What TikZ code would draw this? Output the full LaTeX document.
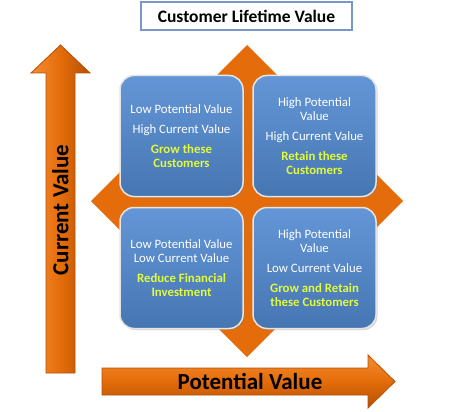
\documentclass[tikz,border=0pt]{standalone}
\usepackage{fontspec}
\setmainfont{Carlito}
\usetikzlibrary{shadows}
\definecolor{orng}{RGB}{228,108,10}
\definecolor{orngL}{RGB}{246,140,50}
\definecolor{orngD}{RGB}{180,80,5}
\definecolor{boxblue}{RGB}{79,129,189}
\definecolor{boxblueL}{RGB}{100,150,215}
\definecolor{boxblueD}{RGB}{70,118,178}
\definecolor{ylw}{RGB}{225,250,60}
\definecolor{titleblue}{RGB}{120,150,200}
\newcommand\yb[1]{{\color{ylw}\bfseries #1}}
\tikzset{
  quad/.style={rounded corners=14pt, minimum width=123pt, minimum height=121pt,
    top color=boxblueL, bottom color=boxblueD, draw=gray!20, line width=1.5pt,
    text=white, align=center, font=\fontsize{12.8}{14}\selectfont, inner sep=0pt,
    drop shadow={opacity=0.35, shadow xshift=1.5pt, shadow yshift=-1.5pt}},
  bigarrow/.style={draw=orngD, line width=0.8pt, line join=miter},
  axislabel/.style={font=\bfseries\fontsize{23}{24}\selectfont, text=black},
}
\begin{document}
\begin{tikzpicture}[x=1pt,y=-1pt]
\useasboundingbox (0,0) rectangle (474,412);
% title
\node[draw=titleblue, line width=1.3pt, minimum width=211pt, minimum height=28pt,
  font=\bfseries\fontsize{17.5}{19}\selectfont, inner sep=0pt] (title) at (246.5,16) {Customer Lifetime Value};
% diamond
\fill[orng] (247,45) -- (403,201) -- (247,357) -- (91,201) -- cycle;
% vertical arrow
\draw[bigarrow, left color=orngL, right color=orngD, middle color=orng]
  (46,373) -- (46,73) -- (31,73) -- (60.5,45) -- (90,73) -- (75,73) -- (75,373) -- cycle;
\node[axislabel, rotate=90] (cv) at (60.5,210) {Current Value};
% horizontal arrow
\draw[bigarrow, top color=orngL, bottom color=orngD, middle color=orng]
  (102,368) -- (368,368) -- (368,355) -- (395,381.5) -- (368,408) -- (368,395) -- (102,395) -- cycle;
\node[axislabel] (pv) at (250,381.5) {Potential Value};
% quadrants
\node[quad] (tl) at (181.5,136) {Low Potential Value\\[6pt]High Current Value\\[6pt]\yb{Grow these}\\\yb{Customers}};
\node[quad] (tr) at (314.5,136) {High Potential\\Value\\[6pt]High Current Value\\[6pt]\yb{Retain these}\\\yb{Customers}};
\node[quad] (bl) at (181.5,268) {Low Potential Value\\Low Current Value\\[6pt]\yb{Reduce Financial}\\\yb{Investment}};
\node[quad] (br) at (314.5,268) {High Potential\\Value\\[6pt]Low Current Value\\[6pt]\yb{Grow and Retain}\\\yb{these Customers}};
\end{tikzpicture}
\end{document}
